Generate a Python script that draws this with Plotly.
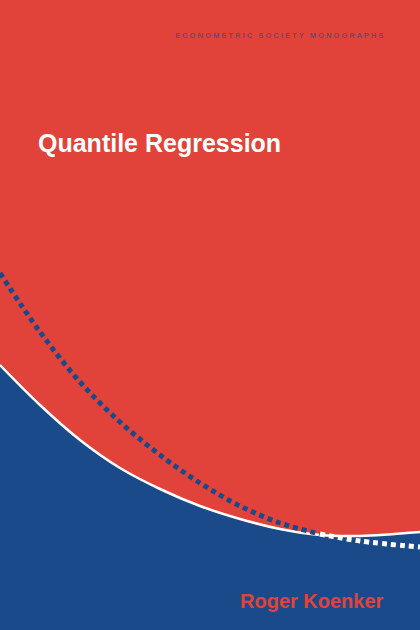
import plotly.graph_objects as go

curve_x = [0, 40, 80, 120, 160, 200, 240, 280, 320, 360, 420]
curve_y = [365, 405, 440, 468, 489, 506, 519, 529, 535, 536, 532]
dots_x = [0, 40, 80, 120, 160, 200, 240, 280, 320, 360, 420]
dots_y = [273, 332, 382, 422, 455, 483, 506, 523, 534, 541, 547]
split = 8

RED = "#E1433A"
BLUE = "#1B4A8A"

fig = go.Figure()
fig.add_trace(go.Scatter(x=curve_x, y=[630]*len(curve_x), mode="lines", line=dict(width=0), hoverinfo="skip"))
fig.add_trace(go.Scatter(x=curve_x, y=curve_y, mode="lines", fill="tonexty", fillcolor=BLUE,
                         line=dict(color="white", width=2.5, shape="spline"), hoverinfo="skip"))
fig.add_trace(go.Scatter(x=dots_x[:split+1], y=dots_y[:split+1], mode="lines",
                         line=dict(color=BLUE, width=5, dash="5px,4px", shape="spline")))
fig.add_trace(go.Scatter(x=dots_x[split:], y=dots_y[split:], mode="lines",
                         line=dict(color="white", width=5, dash="5px,4px", shape="spline")))

fig.add_annotation(x=385, y=35, text="<b>E C O N O M E T R I C  &nbsp;S O C I E T Y  &nbsp;M O N O G R A P H S</b>",
                   showarrow=False, xanchor="right", yanchor="middle",
                   font=dict(family="Liberation Sans", size=7.5, color="#6E4A6E"))
fig.add_annotation(x=36, y=143, text="<b>Quantile Regression</b>", showarrow=False,
                   xanchor="left", yanchor="middle",
                   font=dict(family="Liberation Sans", size=25, color="white"))
fig.add_annotation(x=386, y=601, text="<b>Roger Koenker</b>", showarrow=False,
                   xanchor="right", yanchor="middle",
                   font=dict(family="Liberation Sans", size=20, color=RED))

fig.update_layout(width=420, height=630, margin=dict(l=0, r=0, t=0, b=0),
                  paper_bgcolor=RED, plot_bgcolor=RED, showlegend=False,
                  xaxis=dict(range=[0, 420], visible=False, fixedrange=True),
                  yaxis=dict(range=[630, 0], visible=False, fixedrange=True))
fig.write_html("out.html", config={"displayModeBar": False},
               post_script="document.body.style.margin='0';document.body.style.overflow='hidden';")
